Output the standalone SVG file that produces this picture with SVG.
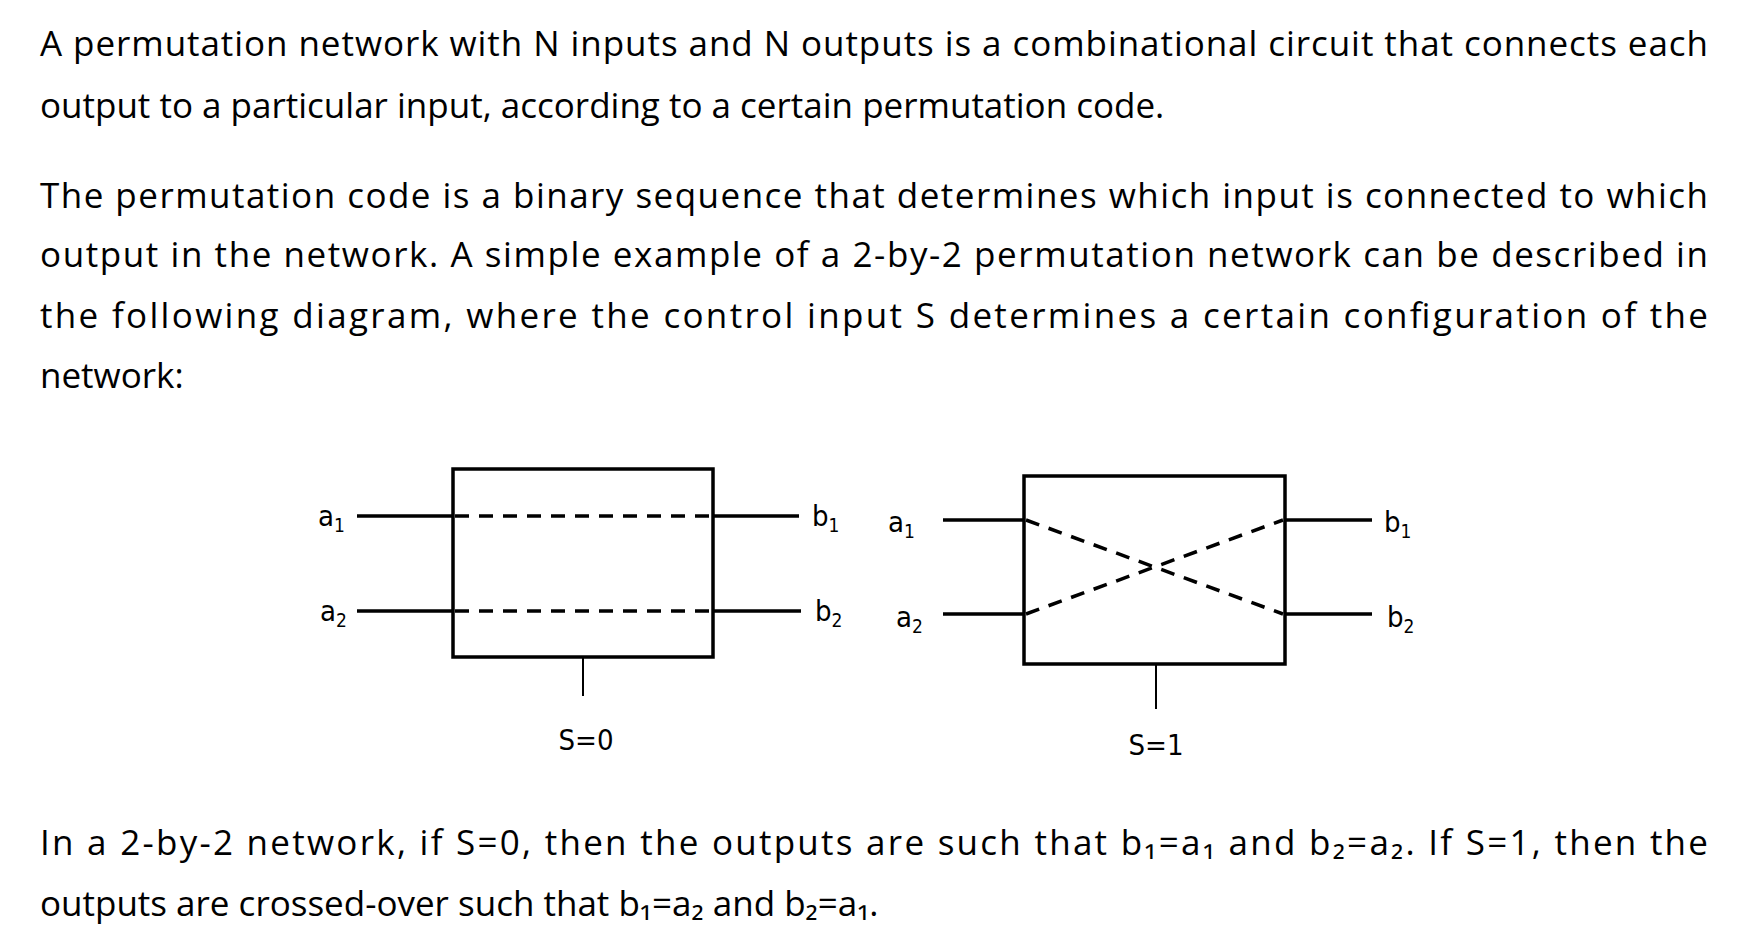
<svg xmlns="http://www.w3.org/2000/svg" width="1751" height="950" viewBox="0 0 1751 950">
<style>
.t{font-family:"Open Sans","Liberation Sans",sans-serif;font-size:35px;fill:#000}
.l{font-family:"DejaVu Sans Condensed","DejaVu Sans",sans-serif;font-size:29px;fill:#000}
.s{font-size:19px}
.box{fill:none;stroke:#000;stroke-width:3.5}
.w{stroke:#000;stroke-width:3.5;fill:none}
.d{stroke:#000;stroke-width:3.5;fill:none;stroke-dasharray:14 10}
.c{stroke:#000;stroke-width:2;fill:none}
</style>
<rect width="1751" height="950" fill="#fff"/>
<g id="text">
<text class="t" x="40" y="56" textLength="1668" lengthAdjust="spacing">A permutation network with N inputs and N outputs is a combinational circuit that connects each</text>
<text class="t" x="40" y="118">output to a particular input, according to a certain permutation code.</text>
<text class="t" x="40" y="208" textLength="1668" lengthAdjust="spacing">The permutation code is a binary sequence that determines which input is connected to which</text>
<text class="t" x="40" y="267" textLength="1668" lengthAdjust="spacing">output in the network. A simple example of a 2-by-2 permutation network can be described in</text>
<text class="t" x="40" y="328" textLength="1668" lengthAdjust="spacing">the following diagram, where the control input S determines a certain configuration of the</text>
<text class="t" x="40" y="388">network:</text>
<text class="t" x="40" y="855" textLength="1668" lengthAdjust="spacing">In a 2-by-2 network, if S=0, then the outputs are such that b₁=a₁ and b₂=a₂. If S=1, then the</text>
<text class="t" x="40" y="916">outputs are crossed-over such that b₁=a₂ and b₂=a₁.</text>
</g>
<g id="box0">
<rect class="box" x="453" y="469" width="260" height="188"/>
<text class="l" x="318" y="526">a<tspan class="s" dy="6">1</tspan></text>
<text class="l" x="320" y="621">a<tspan class="s" dy="6">2</tspan></text>
<text class="l" x="812" y="526">b<tspan class="s" dy="6">1</tspan></text>
<text class="l" x="815" y="621">b<tspan class="s" dy="6">2</tspan></text>
<text class="l" x="586" y="750" text-anchor="middle">S=0</text>
</g>
<g id="box1">
<rect class="box" x="1024" y="476" width="261" height="188"/>
<text class="l" x="888" y="532">a<tspan class="s" dy="6">1</tspan></text>
<text class="l" x="896" y="627">a<tspan class="s" dy="6">2</tspan></text>
<text class="l" x="1384" y="532">b<tspan class="s" dy="6">1</tspan></text>
<text class="l" x="1387" y="627">b<tspan class="s" dy="6">2</tspan></text>
<text class="l" x="1156" y="755" text-anchor="middle">S=1</text>
</g>
<g id="connectors">
<path class="w" d="M357 516H453M713 516H799M357 611H453M713 611H801"/>
<path class="d" d="M455 516H711M455 611H711"/>
<path class="c" d="M583 657V696M1156 664V709"/>
<path class="w" d="M943 520H1024M1285 520H1372M943 614H1024M1285 614H1372"/>
<path class="d" d="M1026 520L1283 614M1026 614L1283 520"/>
</g>
</svg>
